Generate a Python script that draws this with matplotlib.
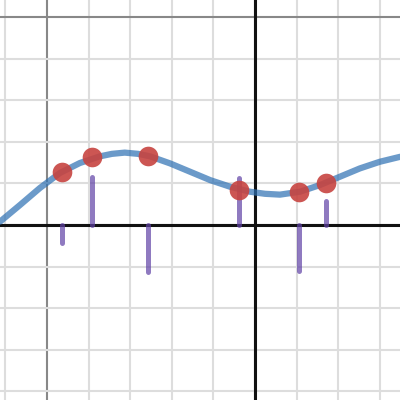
import numpy as np
import matplotlib
matplotlib.use("Agg")
import matplotlib.pyplot as plt

# data, in grid units
pts_x = [-4.64, -3.91, -2.57, -0.38, 1.06, 1.70]
pts_y = [1.27, 1.64, 1.66, 0.84, 0.79, 1.00]
stem_y = [-0.44, 1.15, -1.12, 1.12, -1.11, 0.58]

curve_x = [-6.13, -5.65, -5.17, -4.69, -4.21, -3.73, -3.44, -3.13, -2.81, -2.52,
           -2.04, -1.56, -1.08, -0.60, -0.12, 0.24, 0.60, 1.08, 1.56, 2.04,
           2.52, 3.00, 3.49]
curve_y = [0.08, 0.48, 0.89, 1.25, 1.49, 1.65, 1.71, 1.74, 1.71, 1.65,
           1.48, 1.28, 1.08, 0.92, 0.80, 0.75, 0.73, 0.80, 0.96, 1.16,
           1.36, 1.52, 1.64]

fig = plt.figure(figsize=(4, 4), dpi=100)
ax = fig.add_axes([0, 0, 1, 1])
ax.set_xlim(-255 / 41.6, 145 / 41.6)
ax.set_ylim(-175 / 41.6, 225 / 41.6)
ax.axis('off')

# grid
for gx in range(-6, 4):
    c = '#888888' if gx % 5 == 0 else '#dddddd'
    ax.axvline(gx, color=c, lw=1.5, zorder=0)
for gy in range(-4, 6):
    c = '#888888' if gy % 5 == 0 else '#dddddd'
    ax.axhline(gy, color=c, lw=1.5, zorder=0)
ax.axvline(0, color='#111111', lw=2.2, zorder=1)
ax.axhline(0, color='#111111', lw=2.2, zorder=1)

# stems
for x, s in zip(pts_x, stem_y):
    ax.plot([x, x], [0, s], color='#6042a6', alpha=0.7, lw=3.6,
            solid_capstyle='round', zorder=2)

ax.plot(curve_x, curve_y, color='#2d70b3', alpha=0.7, lw=4.5,
        solid_capstyle='round', solid_joinstyle='round', zorder=3)
ax.scatter(pts_x, pts_y, s=200, color='#c74440', alpha=0.9, lw=0, zorder=4)

fig.savefig("out.png", dpi=100)
